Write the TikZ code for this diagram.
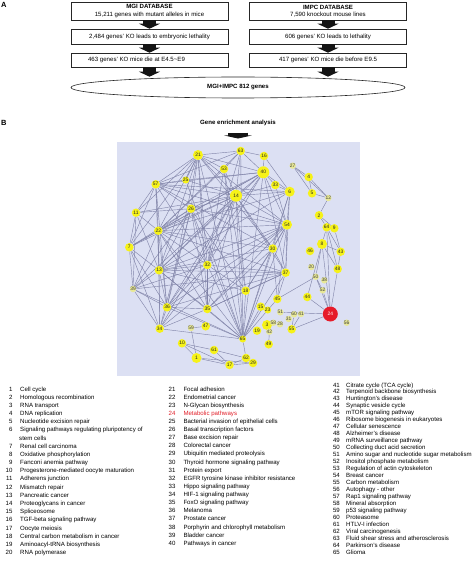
\documentclass[tikz,border=0pt]{standalone}
\usepackage{fontspec}
\setmainfont{Liberation Sans}
\usetikzlibrary{arrows.meta,shapes.geometric}
\definecolor{lav}{RGB}{220,224,243}
\definecolor{ylw}{RGB}{246,242,24}
\definecolor{ylwpale}{RGB}{232,232,150}
\definecolor{redn}{RGB}{230,28,42}
\definecolor{edgec}{RGB}{128,131,168}
\definecolor{redtxt}{RGB}{225,30,40}
\pgfdeclarelayer{bg}
\pgfdeclarelayer{edgelayer}
\pgfsetlayers{bg,edgelayer,main}
\newcommand\fsa{\fontsize{6.1}{7.7}\selectfont}
\newcommand\fsn{\fontsize{4.9}{5.5}\selectfont}
\begin{document}
\begin{tikzpicture}[x=1pt,y=-1pt,
 box/.style={draw=black!85, line width=0.6pt, rectangle, minimum width=157pt, inner sep=0pt, align=center, font=\fsa},
 blk/.style={line width=13pt, black!92, -{Triangle[width=21pt,length=5pt]}},
 gn/.style={circle, fill=ylw, inner sep=0pt, font=\fsn, text=black!85},
 nL/.style={gn, minimum size=12pt},
 nM/.style={gn, minimum size=10pt},
 nS/.style={gn, minimum size=8.5pt},
 nX/.style={gn, minimum size=7pt},
 nT/.style={circle, fill=ylwpale, inner sep=0pt, minimum size=5pt, font=\fsn, text=black!75},
 nR/.style={circle, fill=redn, minimum size=15pt, inner sep=0pt, font=\fsn, text=white},
 ed/.style={draw=edgec, line width=0.42pt},
 num/.style={font=\fsa, anchor=base east, inner sep=0pt},
 lt/.style={font=\fsa, anchor=base west, inner sep=0pt},
 plab/.style={anchor=north west, font=\bfseries\fontsize{7.5}{8}\selectfont, inner sep=0pt}]
\useasboundingbox (0,0) rectangle (474,588);
% ---------- Panel A
\node[plab] (lA) at (1,2) {A};
\node[box, minimum height=18pt] (m1) at (149.5,11.2) {\textbf{MGI DATABASE}\\15,211 genes with mutant alleles in mice};
\node[box, minimum height=15pt] (m2) at (149.5,36.5) {2,484 genes' KO leads to embryonic lethality};
\node[box, minimum height=14pt] (m3) at (149.5,60) {463 genes' KO mice die at E4.5\textasciitilde E9\hspace*{26pt}};
\node[box, minimum height=18pt] (p1) at (328,11.2) {\textbf{IMPC DATABASE}\\7,590 knockout mouse lines};
\node[box, minimum height=15pt] (p2) at (328,36.5) {606 genes' KO leads to lethality};
\node[box, minimum height=14pt] (p3) at (328,60) {417 genes' KO mice die before E9.5};
\node[ellipse, draw=black!85, line width=0.6pt, minimum width=334pt, minimum height=21pt, inner sep=0pt, font=\fsa\bfseries] (ell) at (238,87.5) {MGI+IMPC 812 genes};
\draw[blk] (m1.south) -- (m2.north);
\draw[blk] (m2.south) -- (m3.north);
\draw[blk] (m3.south) -- (m3.south |- ell.north);
\draw[blk] (p1.south) -- (p2.north);
\draw[blk] (p2.south) -- (p3.north);
\draw[blk] (p3.south) -- (p3.south |- ell.north);
% ---------- Panel B
\node[plab] (lB) at (1,120) {B};
\node[font=\fsa\bfseries, inner sep=1pt] (ge) at (238,123.3) {Gene enrichment analysis};
\coordinate (gs) at (238,132.7);
\coordinate (gt) at (238,138.5);
\draw[line width=20pt, black!92, -{Triangle[width=27pt,length=3pt]}] (gs) -- (gt);
\begin{pgfonlayer}{bg}
\fill[lav] (117,142) rectangle (359.5,376);
\end{pgfonlayer}
% graph nodes
\node[nM] (n1) at (196.5,358) {1};
\node[nS] (n2) at (319,215.3) {2};
\node[nM] (n3) at (267,325) {3};
\node[nS] (n4) at (308.7,177) {4};
\node[nS] (n5) at (312,193.3) {5};
\node[nM] (n6) at (289.7,191.7) {6};
\node[nS] (n7) at (129.3,247.3) {7};
\node[nM] (n8) at (322,244) {8};
\node[nS] (n9) at (334.3,228.3) {9};
\node[nS] (n10) at (182,343.3) {10};
\node[nS] (n11) at (136,212.7) {11};
\node[nT] (n12) at (328.3,198) {12};
\node[nS] (n13) at (159,270.3) {13};
\node[nL] (n14) at (236,195.7) {14};
\node[nS] (n15) at (260.7,306.7) {15};
\node[nS] (n16) at (264,156) {16};
\node[nS] (n17) at (229.5,365) {17};
\node[nS] (n18) at (245.7,290.7) {18};
\node[nS] (n19) at (257,330.7) {19};
\node[nT] (n20) at (311.3,267) {20};
\node[nM] (n21) at (198,155) {21};
\node[nS] (n22) at (158.3,230.7) {22};
\node[nX] (n23) at (267.7,310) {23};
\node[nR] (n24) at (330.3,314) {24};
\node[nX] (n25) at (185.7,180) {25};
\node[nS] (n26) at (191,208.7) {26};
\node[nT] (n27) at (292.7,165.7) {27};
\node[nT] (n28) at (280,324.3) {28};
\node[nS] (n29) at (253,363) {29};
\node[nS] (n30) at (272.7,248.5) {30};
\node[nT] (n31) at (288.7,319) {31};
\node[nS] (n32) at (207.3,265) {32};
\node[nS] (n33) at (275.3,185) {33};
\node[nS] (n34) at (159.7,328.7) {34};
\node[nS] (n35) at (207.3,309) {35};
\node[nS] (n36) at (167,307.3) {36};
\node[nS] (n37) at (285.7,272.7) {37};
\node[nT] (n38) at (324.3,280.3) {38};
\node[nT] (n39) at (133,289) {39};
\node[nL] (n40) at (263.3,172.3) {40};
\node[nT] (n41) at (301,314) {41};
\node[nT] (n42) at (269.3,331.7) {42};
\node[nS] (n43) at (340.7,251.7) {43};
\node[nS] (n44) at (307.3,297) {44};
\node[nS] (n45) at (277.3,299) {45};
\node[nS] (n46) at (310,251) {46};
\node[nS] (n47) at (205.7,326.3) {47};
\node[nS] (n48) at (337.7,269) {48};
\node[nS] (n49) at (268.7,344.3) {49};
\node[nT] (n50) at (315.7,276.7) {50};
\node[nT] (n51) at (280.3,312.3) {51};
\node[nT] (n52) at (322.7,290.3) {52};
\node[nS] (n53) at (224,169) {53};
\node[nM] (n54) at (287,224.7) {54};
\node[nS] (n55) at (291.7,329.3) {55};
\node[nT] (n56) at (346.7,322.7) {56};
\node[nS] (n57) at (155.7,184.3) {57};
\node[nT] (n58) at (273.3,322.7) {58};
\node[nT] (n59) at (191,328) {59};
\node[nT] (n60) at (294,314.3) {60};
\node[nS] (n61) at (214,350) {61};
\node[nS] (n62) at (246,358) {62};
\node[nS] (n63) at (240.7,151) {63};
\node[nS] (n64) at (326.7,227.3) {64};
\node[nX] (n65) at (242.7,339) {65};
% edges
\begin{pgfonlayer}{edgelayer}
\foreach \a/\b in {21/63,21/57,21/25,21/14,21/53,21/22,21/26,21/13,21/7,21/32,21/36,21/35,21/54,21/40,21/11,21/65,21/30,
 63/16,63/40,63/14,63/53,63/57,63/22,63/65,63/32,16/40,16/6,
 40/57,40/14,40/22,40/26,40/13,40/32,40/54,40/6,40/33,40/37,40/7,40/65,40/36,40/25,
 57/25,57/14,57/22,57/11,57/26,57/6,57/7,57/13,57/32,57/54,57/30,57/36,
 14/25,14/26,14/22,14/13,14/32,14/37,14/54,14/6,14/30,14/36,14/35,14/65,14/18,14/7,14/39,14/34,14/11,14/33,
 53/14,53/32,53/65,53/18,53/22,
 26/22,26/13,26/32,26/11,26/7,26/36,26/35,26/39,26/34,26/54,26/65,26/18,
 22/11,22/7,22/13,22/32,22/37,22/54,22/39,22/36,22/35,22/34,22/30,22/65,22/6,
 54/6,54/30,54/37,54/32,54/13,54/36,54/35,54/65,54/45,54/18,54/34,54/33,
 6/33,6/30,6/37,6/13,6/65,
 13/7,13/39,13/36,13/35,13/34,13/32,13/37,13/18,13/30,13/65,
 32/37,32/35,32/36,32/18,32/65,32/34,32/39,
 37/18,37/35,37/36,37/65,37/39,37/45,37/30,
 30/18,30/65,30/35,30/45,36/34,36/35,36/65,36/39,35/65,35/34,35/18,
 34/65,39/7,39/34,39/65,18/65,45/65,15/65,25/65,11/7,11/13,11/39,7/34,7/36,
 27/4,27/5,27/12,4/5,4/12,5/12,12/2,2/9,2/64,64/8,64/43,64/48,64/24,9/43,
 8/43,8/48,8/24,8/44,8/50,43/48,48/24,24/52,24/50,52/50,50/45,44/24,24/51,24/55,41/55,60/55,
 3/42,42/49,59/47,59/1,10/1,10/61,10/17,1/17,1/29,61/62,61/17,62/29,62/17,65/62,17/29}
 {\draw[ed] (n\a) -- (n\b);}
\end{pgfonlayer}
% ---------- legend
\foreach \n/\t in {1/Cell cycle,2/Homologous recombination,3/RNA transport,4/DNA replication,5/Nucleotide excision repair,6/Signaling pathways regulating pluripotency of}
 {\node[num] (c\n) at (12.7,{391+(\n-1)*8.18}) {\n};
  \node[lt] (t\n) at (20,{391+(\n-1)*8.18}) {\t};}
\node[lt] (t6b) at (19,440.1) {stem cells};
\foreach \n/\t in {7/Renal cell carcinoma,8/Oxidative phosphorylation,9/Fanconi anemia pathway,10/Progesterone-mediated oocyte maturation,11/Adherens junction,12/Mismatch repair,13/Pancreatic cancer,14/Proteoglycans in cancer,15/Spliceosome,16/TGF-beta signaling pathway,17/Oocyte meiosis,18/Central carbon metabolism in cancer,19/Aminoacyl-tRNA biosynthesis,20/RNA polymerase}
 {\node[num] (c\n) at (12.7,{391+\n*8.18}) {\n};
  \node[lt] (t\n) at (20,{391+\n*8.18}) {\t};}
\foreach \n/\t in {21/Focal adhesion,22/Endometrial cancer,23/N-Glycan biosynthesis,25/Bacterial invasion of epithelial cells,26/Basal transcription factors,27/Base excision repair,28/Colorectal cancer,29/Ubiquitin mediated proteolysis,30/Thyroid hormone signaling pathway,31/Protein export,32/EGFR tyrosine kinase inhibitor resistance,33/Hippo signaling pathway,34/HIF-1 signaling pathway,35/FoxO signaling pathway,36/Melanoma,37/Prostate cancer,38/Porphyrin and chlorophyll metabolism,39/Bladder cancer,40/Pathways in cancer}
 {\node[num] (c\n) at (175.7,{391+(\n-21)*8.12}) {\n};
  \node[lt] (t\n) at (183.3,{391+(\n-21)*8.12}) {\t};}
\node[num, text=redtxt] (c24) at (175.7,{391+3*8.12}) {24};
\node[lt, text=redtxt] (t24) at (183.3,{391+3*8.12}) {Metabolic pathways};
\foreach \n/\t in {41/Citrate cycle (TCA cycle),42/Terpenoid backbone biosynthesis,43/Huntington's disease,44/Synaptic vesicle cycle,45/mTOR signaling pathway,46/Ribosome biogenesis in eukaryotes,47/Cellular senescence,48/Alzheimer's disease,49/mRNA surveillance pathway,50/Collecting duct acid secretion,51/Amino sugar and nucleotide sugar metabolism,52/Inositol phosphate metabolism,53/Regulation of actin cytoskeleton,54/Breast cancer,55/Carbon metabolism,56/Autophagy - other,57/Rap1 signaling pathway,58/Mineral absorption,59/p53 signaling pathway,60/Proteasome,61/HTLV-I infection,62/Viral carcinogenesis,63/Fluid shear stress and atherosclerosis,64/Parkinson's disease,65/Glioma}
 {\node[num] (c\n) at (340,{387+(\n-41)*6.99}) {\n};
  \node[lt] (t\n) at (346,{387+(\n-41)*6.99}) {\t};}
\end{tikzpicture}
\end{document}
